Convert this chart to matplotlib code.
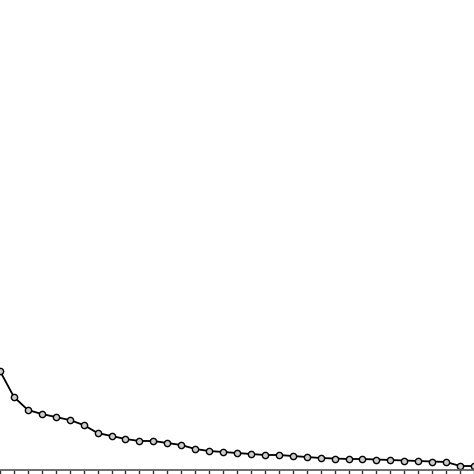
import matplotlib
matplotlib.use("Agg")
import matplotlib.pyplot as plt

idx = list(range(0, 35))
vals = [99, 73, 60, 56, 53, 50, 45, 37, 34, 31, 29, 29, 27, 25, 21, 19, 18, 17, 16, 15, 15,
        14, 13, 12, 11.5, 11, 11, 10.5, 10, 9.5, 9, 8.5, 8, 4, 4]

fig = plt.figure(figsize=(4.74, 4.74), dpi=100)
ax = fig.add_axes([0, 4/474, 1, 470/474])
ax.plot(idx, vals, color="black", lw=1.3, marker="o", ms=4.5, mfc="#cccccc", mec="black", mew=1.0)
ax.set_xlim(0.333, 33.6)
ax.set_ylim(0, 470)
for s in ["top", "right", "left"]:
    ax.spines[s].set_visible(False)
ax.spines["bottom"].set_color("#555555")
ax.spines["bottom"].set_linewidth(1.2)
ax.set_xticks(idx)
ax.set_xticklabels([])
ax.tick_params(axis="x", direction="out", length=5, color="#333333", width=1)
ax.set_yticks([])
fig.savefig("out.png", dpi=100)
